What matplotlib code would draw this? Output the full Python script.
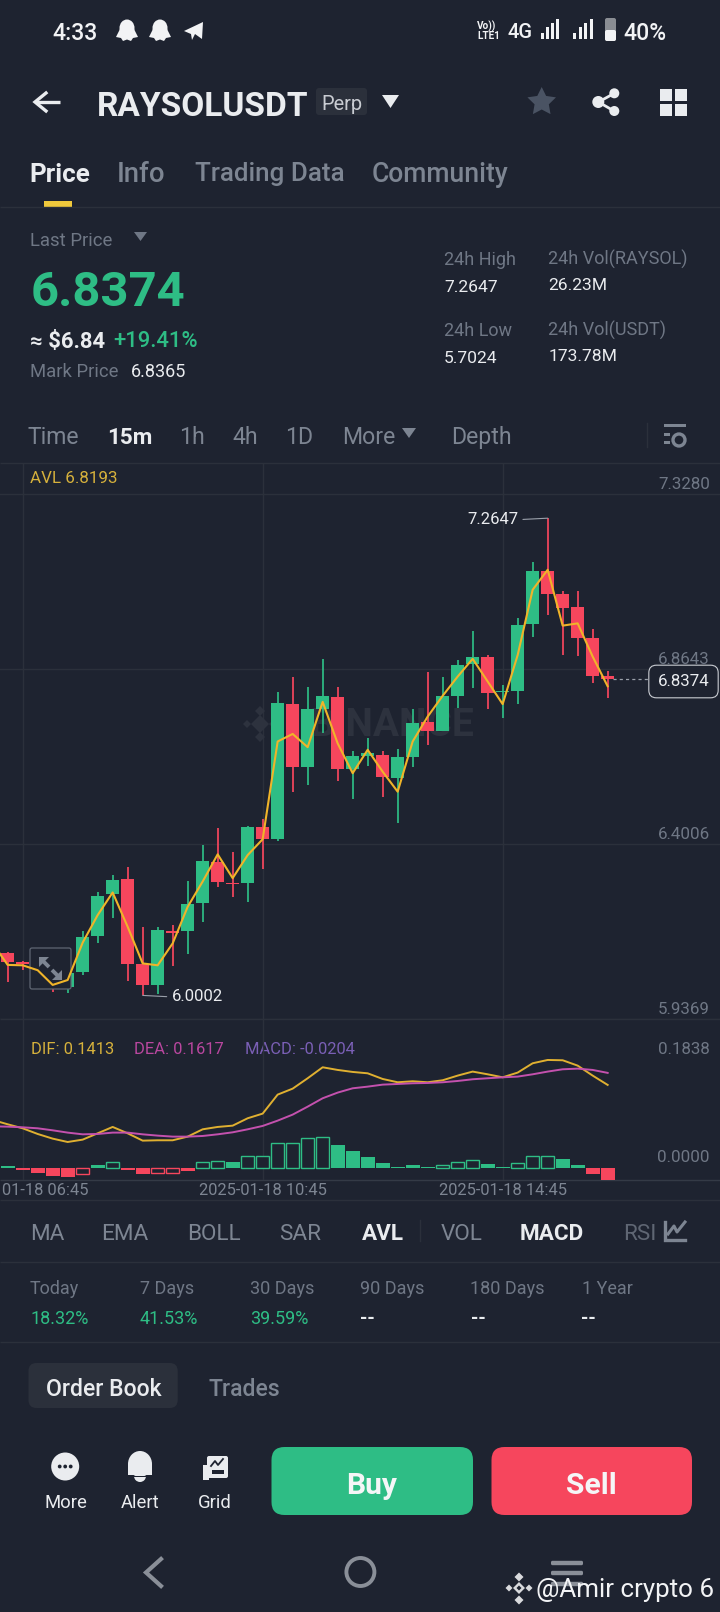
import numpy as np
import matplotlib
matplotlib.use("Agg")
import matplotlib.pyplot as plt
from matplotlib.patches import Rectangle, FancyBboxPatch, Circle, Polygon, Ellipse, Wedge

plt.rcParams['font.family'] = ['Roboto', 'DejaVu Sans']

# ---------- data ----------
opens = [6.112,6.089,6.065,6.045,6.023,6.062,6.158,6.268,6.309,6.083,6.028,6.172,6.170,6.244,6.354,6.298,6.298,6.446,
         6.415,6.773,6.605,6.760,6.791,6.599,6.635,6.637,6.576,6.633,6.724,6.702,6.794,6.878,6.898,6.803,6.807,6.984,
         7.125,7.064,7.029,6.946,6.847]
closes = [6.088,6.083,6.050,6.025,6.059,6.156,6.264,6.306,6.084,6.027,6.173,6.166,6.243,6.357,6.302,6.295,6.446,6.415,
          6.774,6.605,6.758,6.794,6.600,6.635,6.642,6.580,6.631,6.721,6.702,6.794,6.876,6.898,6.801,6.807,6.982,7.125,
          7.064,7.028,6.946,6.847,6.8374]
highs = [6.114,6.091,6.070,6.050,6.062,6.172,6.274,6.318,6.340,6.181,6.181,6.187,6.303,6.398,6.444,6.379,6.449,6.467,
         6.803,6.843,6.818,6.891,6.818,6.649,6.682,6.649,6.652,6.758,6.857,6.845,6.889,6.966,6.902,6.823,6.999,7.149,
         7.2647,7.073,7.073,6.972,6.861]
lows = [6.035,6.068,6.040,6.010,6.006,6.053,6.140,6.206,6.038,6.0002,6.003,6.078,6.110,6.196,6.287,6.261,6.248,6.336,
        6.409,6.539,6.559,6.696,6.567,6.520,6.608,6.525,6.456,6.605,6.663,6.702,6.763,6.816,6.759,6.736,6.772,6.949,
        7.008,6.903,6.900,6.829,6.789]
# the three line series start one candle before the first visible body
avl = [6.138,6.081,6.080,6.067,6.028,6.041,6.140,6.213,6.273,6.182,6.085,6.080,6.138,6.235,6.302,6.374,6.311,6.372,6.414,
       6.673,6.693,6.658,6.778,6.668,6.589,6.651,6.593,6.540,6.673,6.739,6.794,6.845,6.892,6.832,6.772,6.902,7.075,
       7.128,6.980,6.986,6.898,6.8193]
dif = [0.0819,0.0746,0.0678,0.0582,0.0503,0.0446,0.0486,0.0593,0.0701,0.0593,0.0469,0.0475,0.0475,0.0537,0.0661,0.0701,0.0723,
       0.0848,0.0927,0.1249,0.1350,0.1526,0.1712,0.1667,0.1633,0.1610,0.1514,0.1458,0.1475,0.1458,0.1492,0.1571,0.1639,
       0.1593,0.1542,0.1622,0.1780,0.1836,0.1831,0.1740,0.1571,0.1413]
dea = [0.0712,0.0706,0.0695,0.0678,0.0644,0.0605,0.0576,0.0582,0.0605,0.0605,0.0576,0.0554,0.0537,0.0537,0.0548,0.0576,0.0610,
       0.0661,0.0718,0.0808,0.0910,0.1045,0.1187,0.1283,0.1356,0.1384,0.1418,0.1429,0.1441,0.1446,0.1458,0.1480,0.1509,
       0.1526,0.1542,0.1554,0.1593,0.1639,0.1678,0.1689,0.1667,0.1617]
macd = [0.0045,-0.0028,-0.0073,-0.0136,-0.0141,-0.0102,0.0057,0.0107,-0.0028,-0.0102,-0.0085,-0.0073,-0.0045,0.0107,
        0.0124,0.0107,0.0203,0.0215,0.0435,0.0435,0.0509,0.0537,0.0390,0.0288,0.0198,0.0085,0.0028,0.0057,0.0028,0.0057,
        0.0107,0.0141,0.0073,0.0023,0.0090,0.0203,0.0215,0.0158,0.0062,-0.0090,-0.0204]
macd_hollow = [5,7,10,11,13,14,16,17,18,19,20,21,29,30,31,34,35,36]
price_ticks = [5.9369,6.4006,6.8643,7.3280]
macd_ticks = [0.0,0.1838]
time_ticks = [1,17,33]
time_labels = ['01-18 06:45','2025-01-18 10:45','2025-01-18 14:45']
last_price = 6.8374
high_price = 7.2647
low_price = 6.0002

# ---------- style ----------
BG='#1e2330'; GRID='#2b303b'; GREEN='#2ebd85'; RED='#f6465d'; GREY='#7d8592'; DIM='#6f7785'; WHITE='#eaecef'
YEL='#d6b13c'

W,H=720,1612
fig=plt.figure(figsize=(W/100,H/100),dpi=100,facecolor=BG)
ui=fig.add_axes([0,0,1,1],zorder=0); ui.set_xlim(0,W); ui.set_ylim(H,0); ui.axis('off')

def rect_axes(top,bottom):
    return fig.add_axes([0,1-bottom/H,1,(bottom-top)/H],facecolor='none',zorder=1)

def T(x,y,s,px,c=WHITE,w='normal',ha='left',**k):
    return ui.text(x,y,s,fontsize=px*0.72,color=c,fontweight=w,ha=ha,va='center_baseline',**k)

def hline(y,x0=0,x1=W,c=GRID,lw=1.0):
    ui.plot([x0,x1],[y,y],color=c,lw=lw,solid_capstyle='butt')

def poly(pts,c,ax=None,**k):
    (ax or ui).add_patch(Polygon(pts,closed=True,fc=c,ec='none',**k))

def rrect(x0,y0,x1,y1,r,fc,ec='none',lw=0,ax=None,**k):
    p=FancyBboxPatch((x0+r,y0+r),x1-x0-2*r,y1-y0-2*r,boxstyle=f'round,pad={r},rounding_size={r}',fc=fc,ec=ec,lw=lw,**k)
    (ax or ui).add_patch(p); return p

# ---------- status bar ----------
T(52,31,'4:33',23,'#f2f3f5','medium')
for cx in (127,160):
    ui.add_patch(Ellipse((cx,28),15,17,fc='#f2f3f5'))
    poly([(cx-11,37),(cx-7,29),(cx+7,29),(cx+11,37),(cx+6,38),(cx+4,41),(cx,39.5),(cx-4,41),(cx-6,38)],'#f2f3f5')
poly([(184,31),(203,22),(202,39),(195,34),(192,40),(191,34)],'#f2f3f5')
T(477,25,'Vo))',10,'#f2f3f5','bold'); T(477,35,'LTE1',10,'#f2f3f5','bold')
T(508,30,'4G',20,'#f2f3f5','medium')
for i,h in enumerate((6,12,16,20)):
    ui.add_patch(Rectangle((541+i*5,39-h),3,h,fc='#f2f3f5'))
    ui.add_patch(Rectangle((573+i*5.6,39-h),3,h,fc='#f2f3f5'))
rrect(605,18,616,41,2,'#8a8d93'); rrect(605,30,616,41,2,'#f2f3f5')
T(623,31,'40%',23,'#f2f3f5','medium')

# ---------- title bar ----------
ui.plot([60,36],[102,102],color=WHITE,lw=2.4,solid_capstyle='butt')
ui.plot([46,35,46],[93,102,111],color=WHITE,lw=2.4,solid_joinstyle='miter')
T(97,103,'RAYSOLUSDT',33.5,WHITE,'bold')
rrect(316,88,367,115,3,'#2b303b')
T(341.5,103,'Perp',20,'#c9ccd2',ha='center')
poly([(382,95),(399,95),(390.5,108)],WHITE)
ang=np.deg2rad(np.arange(0,360,36)-90)
rad=np.array([15,7.5]*5)
poly(list(zip(541.7+rad*np.cos(ang),102+rad*np.sin(ang))),'#4a5363')
ui.plot([614,598.5,614],[93.5,102,111],color=WHITE,lw=2)
for p,r in (((614.3,93.3),5),((598.3,102),6),((614.3,111),5)):
    ui.add_patch(Circle(p,r,fc=WHITE))
for x_,y_ in ((660,89),(675,89),(660,104),(675,104)):
    ui.add_patch(Rectangle((x_,y_),12,12,fc=WHITE))

# ---------- tabs ----------
T(29,172,'Price',26,WHITE,'bold')
T(117,172,'Info',27.5,GREY,'medium')
T(195,172,'Trading Data',26,GREY,'medium')
T(372,172,'Community',26.5,GREY,'medium')
hline(206.5)
ui.add_patch(Rectangle((44,200.5),28,6,fc='#f0c93c'))

# ---------- price block ----------
T(30.5,238.5,'Last Price',18.7,DIM)
poly([(134,232),(147,232),(140.5,241)],DIM)
T(31,288,'6.8374',49,GREEN,'bold')
T(30,339,'≈ $6.84',22,WHITE,'bold')
T(113,339,'+19.41%',22,GREEN,'medium')
T(30.5,370,'Mark Price',18.5,DIM)
T(131,370,'6.8365',18,WHITE)
T(444,258,'24h High',18,DIM); T(444,286,'7.2647',17.5,WHITE)
T(444,329,'24h Low',18,DIM); T(444,357,'5.7024',17.5,WHITE)
T(548.5,257,'24h Vol(RAYSOL)',18,DIM); T(548.5,284,'26.23M',17.5,WHITE)
T(548.5,328,'24h Vol(USDT)',18,DIM); T(548.5,355,'173.78M',17.5,WHITE)

# ---------- interval row ----------
for x_,s in ((28,'Time'),(179.5,'1h'),(232,'4h'),(285.5,'1D'),(342,'More'),(451,'Depth')):
    T(x_,435,s,23,GREY)
T(107.5,436,'15m',22.5,WHITE,'bold')
poly([(402,428),(416,428),(409,438)],GREY)
ui.plot([647,647],[423,447],color=GRID,lw=1)
ui.add_patch(Rectangle((664,424),22,3,fc=GREY))
ui.add_patch(Rectangle((664,433),6,3,fc=GREY)); ui.add_patch(Rectangle((664,441),6,3,fc=GREY))
ui.add_patch(Circle((679,440),6,fc='none',ec=GREY,lw=2.4))

# ---------- price chart ----------
hline(463)
wm='#2d323e'
ax=rect_axes(463,1019.3)
ax.set_xlim(-0.511,47.489)
ax.set_ylim(5.9369,7.4109)
for s in ax.spines.values(): s.set_visible(False)
ax.set_xticks(time_ticks); ax.set_yticks(price_ticks)
ax.tick_params(length=0,labelleft=False,labelbottom=False)
ax.grid(True,color=GRID,lw=1); ax.set_axisbelow(True)
# watermark
d=ui.transData
for cx,cy,r in ((260,724,9),(260,711,5),(260,737,5),(247,724,4),(273,724,4)):
    ax.add_patch(Polygon([(cx-r,cy),(cx,cy-r),(cx+r,cy),(cx,cy+r)],closed=True,fc=wm,ec='none',transform=d,zorder=1))
ax.text(392,726,'BINANCE',transform=d,fontsize=28,fontweight='bold',color=wm,ha='center',va='center',zorder=1)
# candles
x=np.arange(len(closes))
for i in x:
    c=GREEN if closes[i]>=opens[i] else RED
    ax.vlines(i,lows[i],highs[i],color=c,lw=1.25,zorder=3)
    lo,hi=min(opens[i],closes[i]),max(opens[i],closes[i])
    ax.bar(i,hi-lo,bottom=lo,width=0.89,color=c,lw=0,zorder=3)
# expand button
rrect(30,948,71,989,2,BG,ec='#5f6673',lw=0.9,ax=ax,transform=d,zorder=4)
ax.plot(np.arange(-1,len(closes)),avl,color='#f0b429',lw=1.5,zorder=5)
for tip,sx in (((39,957),1),((62,980),-1)):
    ax.add_patch(Polygon([tip,(tip[0]+sx*10,tip[1]),(tip[0],tip[1]+sx*10)],closed=True,fc='#7d8592',ec='none',transform=d,zorder=6))
    ax.plot([tip[0]+sx*3,tip[0]+sx*10],[tip[1]+sx*3,tip[1]+sx*10],color='#7d8592',lw=2.8,transform=d,zorder=6,solid_capstyle='butt')
ax.text(30,477,f'AVL {avl[-1]:.4f}',transform=d,fontsize=17*0.72,color=YEL,va='center_baseline',zorder=6)
for v in price_ticks:
    ax.annotate(f'{v:.4f}',xy=(1,v),xycoords=ax.get_yaxis_transform(),xytext=(-7.2,7.9),textcoords='offset points',
                ha='right',va='center_baseline',fontsize=12.2,color=DIM,zorder=6)
ax.annotate(f'{high_price:.4f}',xy=(36,high_price),xytext=(-21.3,0),textcoords='offset points',ha='right',
            va='center_baseline',fontsize=12,color=WHITE,zorder=6,
            arrowprops=dict(arrowstyle='-',color='#9aa0aa',lw=0.8,shrinkA=1.5,shrinkB=0,relpos=(1,0.5)))
ax.annotate(f'{low_price:.4f}',xy=(9,low_price),xytext=(20.8,0),textcoords='offset points',ha='left',
            va='center_baseline',fontsize=12,color=WHITE,zorder=6,
            arrowprops=dict(arrowstyle='-',color='#9aa0aa',lw=0.8,shrinkA=1.5,shrinkB=0,relpos=(0,0.5)))
ax.plot([40.35,42.7],[last_price,last_price],color='#9aa0aa',lw=0.9,ls=(0,(2.5,2.5)),zorder=5)
ax.text(683.5,680,f'{last_price:.4f}',transform=d,fontsize=12.2,color=WHITE,ha='center',va='center_baseline',zorder=7,
        bbox=dict(boxstyle='round,pad=0.52,rounding_size=0.45',fc=BG,ec='#c9ccd2',lw=0.8))
hline(1019.3)

# ---------- MACD ----------
am=rect_axes(1019.3,1180)
am.set_xlim(-0.511,47.489)
am.set_ylim(-0.0198,0.2525)
for s in am.spines.values(): s.set_visible(False)
am.set_xticks(time_ticks); am.set_yticks([])
am.tick_params(length=0,labelbottom=False)
am.grid(True,axis='x',color=GRID,lw=1); am.set_axisbelow(True)
for i,v in enumerate(macd):
    c=GREEN if v>=0 else RED
    if i in macd_hollow:
        am.bar(i,v,width=0.85,fc=BG,ec=c,lw=1.0,zorder=3)
    else:
        am.bar(i,v,width=0.92,color=c,lw=0,zorder=3)
xl=np.arange(-1,len(macd))
am.plot(xl,dif,color='#e0b030',lw=1.4,zorder=4)
am.plot(xl,dea,color='#c451ae',lw=1.4,zorder=4)
for v in macd_ticks:
    am.annotate(f'{v:.4f}',xy=(1,v),xycoords=am.get_yaxis_transform(),xytext=(-7.2,8.8),textcoords='offset points',
                ha='right',va='center_baseline',fontsize=12.2,color=DIM,zorder=6)
T(30.7,1048,f'DIF: {dif[-1]:.4f}',16.5,YEL)
T(134,1048,f'DEA: {dea[-1]:.4f}',16.5,'#b9479f')
T(245,1048,f'MACD: {macd[-1]:.4f}',16.5,'#7a5fb5')
hline(1180,c='#343a46')
T(88,1189,time_labels[0],16.5,GREY,ha='right')
T(262.7,1189,time_labels[1],16.5,GREY,ha='center')
T(502.7,1189,time_labels[2],16.5,GREY,ha='center')
hline(1199.5)

# ---------- indicator row ----------
for px_,s in ((30,'MA'),(101,'EMA'),(187,'BOLL'),(279.5,'SAR'),(441,'VOL')):
    T(px_,1232,s,22.5,GREY)
T(361.7,1232,'AVL',22.5,WHITE,'bold'); T(519.6,1232,'MACD',22.5,WHITE,'bold')
T(623,1232,'RSI',22.5,'#5f6673')
ui.plot([420,420],[1220,1241],color=GRID,lw=1)
ui.add_patch(Rectangle((657,1215),14,34,fc=BG,zorder=3))
ui.plot([665,665,685],[1222,1240,1240],color=GREY,lw=2.4,solid_joinstyle='miter',zorder=4)
ui.plot([668,674,677,685],[1234,1226,1232,1222],color=GREY,lw=2.2,zorder=4)
hline(1262)

# ---------- returns ----------
labels=['Today','7 Days','30 Days','90 Days','180 Days','1 Year']
rets=['18.32%','41.53%','39.59%','--','--','--']
xs=[30,140,250,360,470.5,581.5]
for xx,l,r in zip(xs,labels,rets):
    T(xx,1287,l,18,DIM)
    if r=='--':
        T(xx,1317,r,19,WHITE,'bold')
    else:
        T(xx,1317,r,18,GREEN)
hline(1341.7)

# ---------- order book ----------
rrect(28.5,1363,177.7,1408,8,'#2b303b')
T(103.5,1387,'Order Book',23,WHITE,'medium',ha='center')
T(208.5,1387,'Trades',23,GREY,'medium')

# ---------- actions ----------
ui.add_patch(Circle((65.2,1466.5),14,fc=WHITE))
for dx in (-5.5,0,5.5):
    ui.add_patch(Circle((65.2+dx,1466.5),1.9,fc=BG))
ui.add_patch(Ellipse((140,1464),24,26,fc=WHITE))
ui.add_patch(Rectangle((128,1464),24,11,fc=WHITE))
ui.add_patch(Wedge((140,1476),6,0,180,fc=WHITE))
ui.add_patch(Rectangle((128,1475.5),24,1.5,fc=BG))
rrect(207,1456,228,1478,2,WHITE)
ui.plot([211,215,218,223],[1466,1461,1465,1459],color=BG,lw=1.3)
ui.add_patch(Rectangle((203,1465),6,15,fc=WHITE)); ui.add_patch(Rectangle((212,1470),12,4,fc=BG))
T(65.5,1501,'More',18.5,WHITE,ha='center'); T(140,1501,'Alert',18.5,WHITE,ha='center'); T(215,1501,'Grid',18.5,WHITE,ha='center')
rrect(271.5,1447,473,1515,13,GREEN)
rrect(491.5,1447,692,1515,13,RED)
T(372,1483,'Buy',30,'#f5f6f7','bold',ha='center')
T(591.5,1483,'Sell',30,'#f5f6f7','bold',ha='center')

# ---------- nav bar ----------
NAV='#8a8f98'
ui.plot([161,146,161],[1559,1572.5,1586],color=NAV,lw=3,solid_joinstyle='miter')
ui.add_patch(Circle((360.4,1572),14,fc='none',ec=NAV,lw=2.8))
for yy in (1563,1573,1584):
    rrect(551,yy-2.2,583,yy+2.2,1.5,NAV)
for cx,cy,r in ((519,1577,4.5),(519,1600,4.5),(509,1588,3.5),(529,1588,3.5)):
    poly([(cx-r,cy),(cx,cy-r),(cx+r,cy),(cx,cy+r)],'#d9dadd')
poly([(519,1582),(525,1588),(519,1594),(513,1588)],'#d9dadd')
poly([(519,1585.5),(521.5,1588),(519,1590.5),(516.5,1588)],BG)
T(536,1588,'@Amir crypto 6',26,'#f2f3f5')

fig.savefig('out.png',dpi=100,facecolor=BG)
